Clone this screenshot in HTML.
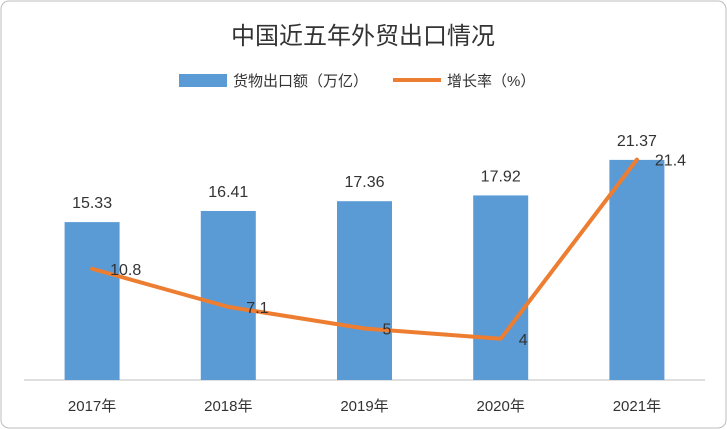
<!DOCTYPE html>
<html><head><meta charset="utf-8"><style>
body{margin:0;background:#fff}
svg{display:block;font-family:"Liberation Sans","Noto Sans CJK SC",sans-serif}
</style></head><body>
<svg id="c" width="727" height="429">
<rect x="1" y="1" width="725" height="427" rx="8" fill="#fff" stroke="#bdbdbd"/>
<text x="363" y="44" text-anchor="middle" font-size="24" fill="#333">中国近五年外贸出口情况</text>
<g>
<rect x="179" y="74" width="48" height="13" fill="#5b9bd5"/>
<text x="233" y="86" font-size="15" fill="#333">货物出口额（万亿）</text>
<line x1="393" y1="80" x2="441" y2="80" stroke="#ed7d31" stroke-width="4"/>
<text x="447" y="86" font-size="15" fill="#333">增长率（%）</text>
</g>
<line x1="24" y1="380" x2="705" y2="380" stroke="#bfbfbf"/>
<g id="bars"></g><g id="line"></g><g id="labels"></g>
</svg>
<script>
const categories=["2017年","2018年","2019年","2020年","2021年"];
const exportsVal=[15.33,16.41,17.36,17.92,21.37];
const growth=[10.8,7.1,5,4,21.4];
const growthLabels=["10.8","7.1","5","4","21.4"];
const NS="http://www.w3.org/2000/svg";
const x0=24,x1=705,base=380,ppu=10.3;
const xs=i=>x0+(x1-x0)/categories.length*(i+0.5);
const ys=v=>base-v*ppu;
function mk(t,a,p){const e=document.createElementNS(NS,t);for(const k in a)e.setAttribute(k,a[k]);p.appendChild(e);return e;}
const bars=document.getElementById('bars'),line=document.getElementById('line'),labels=document.getElementById('labels');
exportsVal.forEach((v,i)=>{
const r=mk('rect',{x:xs(i)-27.5,y:ys(v),width:55,height:v*ppu,fill:'#5b9bd5'},bars);


const t=mk('text',{x:xs(i),y:ys(v)-14,'text-anchor':'middle','font-size':16,fill:'#333'},labels);
t.textContent=v.toFixed(2);


const c=mk('text',{x:xs(i),y:411,'text-anchor':'middle','font-size':15,fill:'#333'},labels);
c.textContent=categories[i];


});
const d=growth.map((v,i)=>(i?'L':'M')+xs(i)+','+ys(v)).join(' ');
const p=mk('path',{d:d,fill:'none',stroke:'#ed7d31','stroke-width':4,'stroke-linejoin':'round','stroke-linecap':'round'},line);


growth.forEach((v,i)=>{
const t=mk('text',{x:xs(i)+18,y:ys(v)+6,'font-size':16,fill:'#333'},labels);
t.textContent=growthLabels[i];


});
</script>
</body></html>
